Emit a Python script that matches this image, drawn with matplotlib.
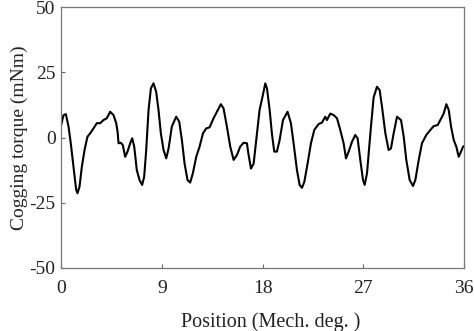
import numpy as np
import matplotlib
matplotlib.use("Agg")
import matplotlib.pyplot as plt

# ---------------- data ----------------
position = [0.0, 0.21, 0.42, 0.66, 0.86, 1.10, 1.34, 1.46, 1.64, 1.85, 2.09, 2.35, 2.59, 2.89,
            3.19, 3.49, 3.78, 4.08, 4.38, 4.68, 4.92, 5.04, 5.13, 5.33, 5.51, 5.72, 5.93, 6.17,
            6.35, 6.53, 6.76, 7.00, 7.24, 7.42, 7.60, 7.81, 8.02, 8.25, 8.49, 8.70, 8.91, 9.15,
            9.39, 9.60, 9.89, 10.28, 10.55, 10.79, 11.03, 11.29, 11.53, 11.77, 12.07, 12.37,
            12.67, 12.96, 13.26, 13.62, 13.92, 14.27, 14.51, 14.81, 15.11, 15.41, 15.71, 16.00,
            16.30, 16.60, 16.75, 16.96, 17.20, 17.43, 17.73, 18.03, 18.24, 18.39, 18.63, 18.83,
            19.04, 19.28, 19.52, 19.82, 20.23, 20.53, 20.77, 21.07, 21.31, 21.52, 21.73, 22.02,
            22.32, 22.62, 23.01, 23.30, 23.60, 23.75, 24.05, 24.35, 24.65, 24.94, 25.24, 25.45,
            25.69, 25.99, 26.28, 26.49, 26.73, 26.97, 27.12, 27.33, 27.63, 27.92, 28.22, 28.46,
            28.67, 28.97, 29.26, 29.47, 29.71, 30.01, 30.37, 30.61, 30.84, 31.14, 31.44, 31.65,
            31.95, 32.24, 32.63, 32.99, 33.29, 33.65, 33.88, 34.18, 34.42, 34.63, 34.84, 35.08,
            35.31, 35.52, 35.73, 35.91, 36.0]
torque = [4.8, 8.6, 9.0, 4.2, -2.2, -11.2, -20.0, -21.4, -18.9, -11.2, -4.8, 0.3, 1.6, 3.5,
          5.5, 5.5, 6.7, 7.4, 9.9, 8.6, 5.5, 2.3, -2.2, -2.0, -2.9, -7.4, -5.4, -2.2,
          -0.3, -3.5, -12.5, -16.3, -18.2, -15.0, -4.8, 10.6, 18.9, 20.8, 17.6, 10.6, 1.6, -4.8,
          -8.0, -4.2, 4.2, 8.0, 6.1, -1.0, -10.0, -16.3, -17.3, -13.7, -7.4, -3.5,
          1.6, 3.5, 3.9, 7.4, 9.9, 12.8, 11.2, 4.2, -3.5, -8.6, -6.7, -3.5,
          -2.0, -2.2, -6.7, -11.9, -10.0, -1.0, 10.6, 16.4, 20.8, 18.9, 10.6, 1.6,
          -5.4, -5.4, -1.0, 6.7, 9.9, 5.5, -2.2, -12.5, -18.2, -19.3, -17.0, -10.0,
          -2.2, 2.9, 5.2, 5.7, 8.0, 6.7, 9.2, 8.6, 7.4, 2.9, -2.2, -8.0,
          -5.4, -1.6, 1.0, -0.3, -8.6, -16.3, -18.2, -13.7, 1.6, 15.4, 19.5, 18.2,
          11.8, 1.6, -4.8, -4.2, 1.6, 8.0, 6.7, 0.3, -8.6, -16.3, -18.6, -16.3,
          -8.6, -2.2, 1.0, 2.9, 4.4, 4.8, 6.7, 9.2, 12.8, 10.6, 4.2, -1.0,
          -3.5, -7.4, -5.4, -3.5, -3.3]
xticks = [0, 9, 18, 27, 36]
yticks = [-50, -25, 0, 25, 50]

# ---------------- plot ----------------
plt.rcParams['font.family'] = ['Liberation Serif', 'DejaVu Serif']
plt.rcParams['axes.unicode_minus'] = False

fig = plt.figure(figsize=(4.74, 3.31), dpi=100)
ax = fig.add_axes([0.129, 0.191, 0.850, 0.787])
ax.plot(position, torque, color='black', linewidth=1.5)

ax.set_xlim(0, 36)
ax.set_ylim(-50, 50)
ax.set_xticks(xticks)
ax.set_yticks(yticks)
ax.tick_params(direction='in', length=3, width=0.8, color='#666666',
               labelsize=14, pad=4, top=False, right=False, labelcolor='#222222')
ax.tick_params(axis='x', pad=9)
for s in ax.spines.values():
    s.set_color('#777777')
    s.set_linewidth(0.9)

ax.set_xlabel('Position (Mech. deg. )', fontsize=14.5, color='#222222')
ax.xaxis.set_label_coords(0.52, -0.17)
ax.set_ylabel('Cogging torque (mNm)', fontsize=14, labelpad=1, color='#222222')

fig.savefig('out.png', dpi=100)
